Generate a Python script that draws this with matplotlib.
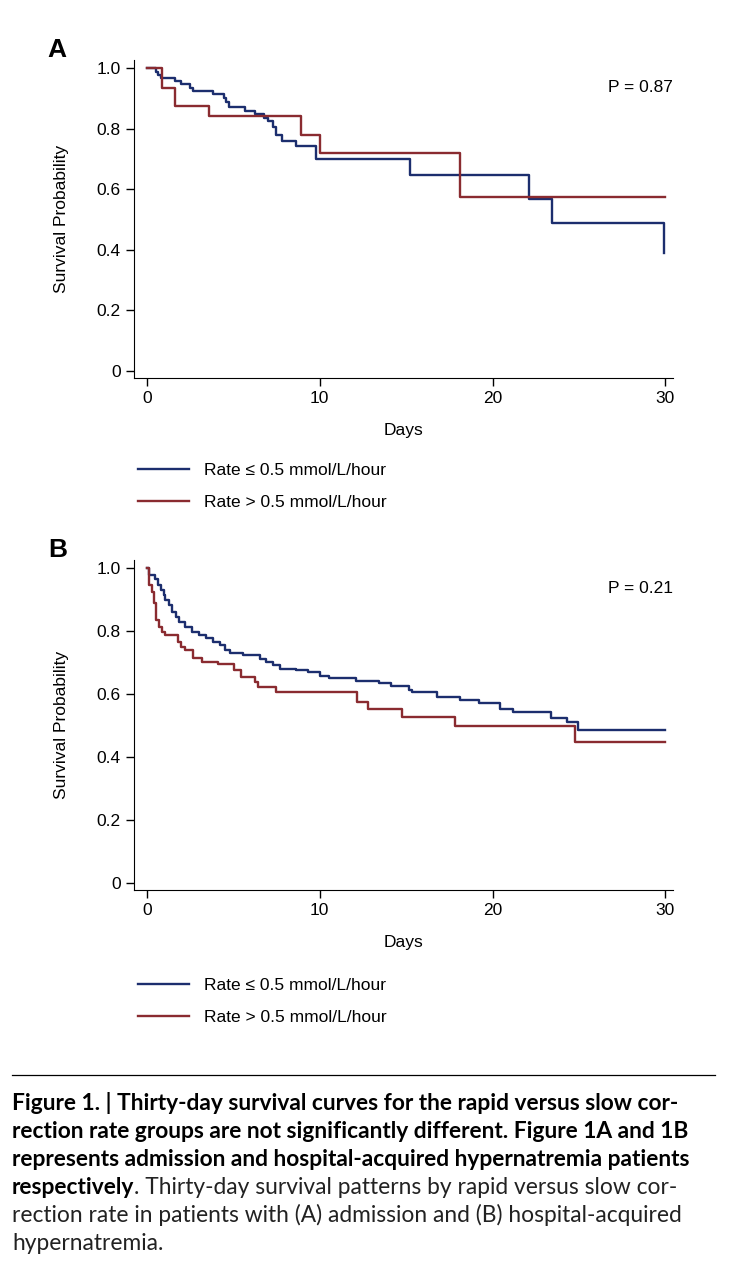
import matplotlib

matplotlib.use("Agg")
import matplotlib.pyplot as plt  # noqa: E402

# Panel A: admission hypernatremia (step times in days, survival after each step)
a_slow_t = [0, 0.55, 0.65, 0.81, 1.63, 1.97, 2.49, 2.69, 3.82, 4.43, 4.57, 4.77, 5.65, 6.26,
            6.77, 6.98, 7.28, 7.49, 7.79, 8.61, 9.77, 15.25, 22.1, 23.45, 29.9]
a_slow_s = [1.0, 0.988, 0.977, 0.968, 0.957, 0.946, 0.935, 0.923, 0.914, 0.901, 0.886, 0.871,
            0.857, 0.848, 0.835, 0.824, 0.805, 0.78, 0.758, 0.741, 0.70, 0.646, 0.567, 0.488, 0.39]
a_fast_t = [0, 0.85, 1.61, 3.6, 8.9, 10.0, 18.1, 30.0]
a_fast_s = [1.0, 0.935, 0.875, 0.84, 0.78, 0.72, 0.575, 0.575]

# Panel B: hospital-acquired hypernatremia
b_slow_t = [0, 0.14, 0.44, 0.65, 0.81, 0.96, 1.06, 1.26, 1.47, 1.67, 1.87, 2.18, 2.59, 3.00,
            3.41, 3.81, 4.22, 4.53, 4.83, 5.55, 6.57, 6.88, 7.28, 7.69, 8.61, 9.33, 10.04,
            10.55, 12.08, 13.41, 14.12, 15.15, 15.35, 16.78, 18.11, 19.23, 20.45, 21.17,
            23.41, 24.33, 24.95, 30.0]
b_slow_s = [1.0, 0.980, 0.967, 0.948, 0.930, 0.914, 0.898, 0.883, 0.861, 0.846, 0.830, 0.814,
            0.798, 0.787, 0.779, 0.764, 0.756, 0.740, 0.729, 0.724, 0.713, 0.703, 0.692, 0.681,
            0.676, 0.669, 0.658, 0.650, 0.641, 0.634, 0.625, 0.613, 0.605, 0.592, 0.581,
            0.570, 0.554, 0.544, 0.523, 0.510, 0.486, 0.486]
b_fast_t = [0, 0.14, 0.28, 0.40, 0.54, 0.69, 0.85, 1.06, 1.77, 1.97, 2.18, 2.69, 3.2, 4.12,
            5.04, 5.45, 6.26, 6.4, 7.49, 12.18, 12.8, 14.78, 17.8, 24.78, 30.0]
b_fast_s = [1.0, 0.946, 0.925, 0.888, 0.835, 0.814, 0.798, 0.787, 0.766, 0.75, 0.74, 0.715,
            0.703, 0.694, 0.676, 0.655, 0.639, 0.623, 0.607, 0.576, 0.552, 0.526, 0.50,
            0.449, 0.449]

panels = [("A", a_slow_t, a_slow_s, a_fast_t, a_fast_s, "P = 0.87"),
          ("B", b_slow_t, b_slow_s, b_fast_t, b_fast_s, "P = 0.21")]
yticks = [0, 0.2, 0.4, 0.6, 0.8, 1.0]
xticks = [0, 10, 20, 30]
BLUE, RED = "#1c2e6e", "#8a2b30"
FONT = ["Liberation Sans", "DejaVu Sans"]

fig = plt.figure(figsize=(7.5, 12.74), dpi=100)
boxes = [(0.1787, 0.7033, 0.7187, 0.2496), (0.1787, 0.3014, 0.7187, 0.259)]
for (letter, st, ss, ft, fs, ptxt), box in zip(panels, boxes):
    ax = fig.add_axes(box)
    ax.step(st, ss, where="post", color=BLUE, lw=1.7, label="Rate \u2264 0.5 mmol/L/hour")
    ax.step(ft, fs, where="post", color=RED, lw=1.7, label="Rate > 0.5 mmol/L/hour")
    ax.set_xlim(-0.75, 30.45)
    ax.set_ylim(-0.023, 1.026)
    ax.set_xticks(xticks)
    ax.set_yticks(yticks)
    ax.set_yticklabels(["0", "0.2", "0.4", "0.6", "0.8", "1.0"])
    ax.spines[["top", "right"]].set_visible(False)
    ax.tick_params(direction="out", length=6, labelsize=12.5, width=1)
    for t in ax.get_xticklabels() + ax.get_yticklabels():
        t.set_family(FONT)
    ax.set_xlabel("Days", fontsize=12.5, family=FONT, labelpad=12)
    ax.set_ylabel("Survival Probability", fontsize=12.5, family=FONT, labelpad=20)
    ax.text(1.0, 0.915, ptxt, transform=ax.transAxes, ha="right", va="center",
            fontsize=12.5, family=FONT)
    ax.text(-0.16, 1.03, letter, transform=ax.transAxes, ha="left", va="center",
            fontsize=19, fontweight="bold", family=FONT)
    ax.legend(loc="upper left", bbox_to_anchor=(-0.005, -0.245), frameon=False,
              prop={"family": FONT, "size": 12.5}, handlelength=2.9, handletextpad=0.9,
              labelspacing=0.95, borderaxespad=0)

# caption
fig.add_artist(plt.Line2D([12 / 750, 715 / 750], [1 - 1075 / 1274] * 2, color="black", lw=0.9))
cap = ["Lato", "DejaVu Sans"]
CS = 16.4
bold_lines = ["Figure 1. | Thirty-day survival curves for the rapid versus slow cor-",
              "rection rate groups are not significantly different. Figure 1A and 1B",
              "represents admission and hospital-acquired hypernatremia patients"]
y0 = 1103
for i, line in enumerate(bold_lines):
    fig.text(12 / 750, 1 - (y0 + 28 * i) / 1274, line, fontsize=CS, fontweight="bold",
             family=cap, va="center", ha="left")
t = fig.text(12 / 750, 1 - (y0 + 84) / 1274, "respectively", fontsize=CS,
             fontweight="bold", family=cap, va="center", ha="left")
ax0 = fig.axes[0]
ax0.annotate(". Thirty-day survival patterns by rapid versus slow cor-", xy=(1, 0.5),
             xycoords=t, va="center", ha="left", fontsize=CS, family=cap,
             color="#222222", annotation_clip=False)
reg = ["rection rate in patients with (A) admission and (B) hospital-acquired",
       "hypernatremia."]
for i, line in enumerate(reg):
    fig.text(12 / 750, 1 - (y0 + 28 * (4 + i)) / 1274, line, fontsize=CS,
             family=cap, va="center", ha="left", color="#222222")

fig.savefig("out.png", dpi=100)
